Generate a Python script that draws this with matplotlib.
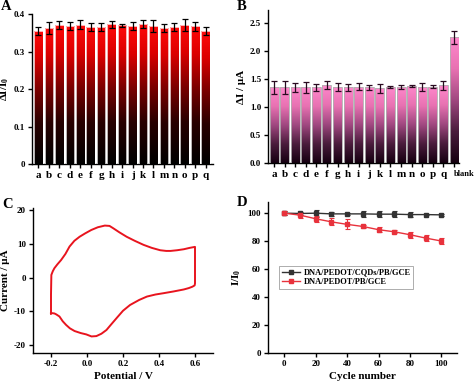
import numpy as np
import matplotlib
matplotlib.use("Agg")
import matplotlib.pyplot as plt
from matplotlib.colors import LinearSegmentedColormap

plt.rcParams['font.family'] = ['Liberation Serif', 'DejaVu Serif']
plt.rcParams['font.weight'] = 'bold'
plt.rcParams['axes.labelweight'] = 'bold'
plt.rcParams['mathtext.fontset'] = 'custom'
plt.rcParams['mathtext.rm'] = 'Liberation Serif:bold'
plt.rcParams['mathtext.it'] = 'Liberation Serif:bold'
plt.rcParams['mathtext.bf'] = 'Liberation Serif:bold'

# ---------------- data ----------------
cats_a = list("abcdefghijklmnopq")
vals_a = [0.355, 0.363, 0.371, 0.368, 0.372, 0.365, 0.365, 0.373, 0.370, 0.368,
          0.373, 0.369, 0.362, 0.366, 0.372, 0.367, 0.354]
errs_a = [0.011, 0.015, 0.011, 0.011, 0.012, 0.011, 0.011, 0.009, 0.004, 0.010,
          0.011, 0.016, 0.011, 0.011, 0.016, 0.011, 0.011]

cats_b = list("abcdefghijklmnopq") + ["blank"]
vals_b = [1.35, 1.35, 1.35, 1.35, 1.35, 1.39, 1.35, 1.35, 1.36, 1.35,
          1.33, 1.35, 1.36, 1.38, 1.35, 1.36, 1.39, 2.24]
errs_b = [0.11, 0.11, 0.08, 0.10, 0.06, 0.07, 0.07, 0.06, 0.06, 0.05,
          0.08, 0.02, 0.04, 0.02, 0.07, 0.03, 0.08, 0.12]

cv_potential = [-0.200, -0.200, -0.198, -0.190, -0.181, -0.165, -0.144, -0.120, -0.097,
                -0.070, -0.041, -0.010, 0.024, 0.060, 0.099, 0.125, 0.146, 0.180,
                0.220, 0.265, 0.314, 0.360, 0.407, 0.440, 0.464, 0.500, 0.538, 0.570,
                0.600, 0.600, 0.600, 0.598, 0.585, 0.565, 0.538, 0.480, 0.426, 0.380,
                0.333, 0.290, 0.239, 0.200, 0.164, 0.135, 0.108, 0.080, 0.052, 0.025,
                -0.004, -0.035, -0.069, -0.095, -0.116, -0.135, -0.153, -0.170, -0.181,
                -0.195, -0.200]
cv_current = [-10.6, -5.0, 0.8, 1.9, 2.8, 3.9, 5.2, 7.0, 9.2, 10.9, 12.1, 13.1, 14.1,
              14.9, 15.4, 15.3, 14.6, 13.4, 12.1, 10.9, 9.7, 8.8, 8.1, 7.9, 7.9, 8.1,
              8.4, 8.8, 9.1, 3.0, -1.7, -2.3, -2.7, -3.1, -3.5, -4.1, -4.6, -5.0, -5.6,
              -6.6, -8.1, -9.8, -12.0, -13.8, -15.5, -16.6, -17.3, -17.4, -16.8, -16.4,
              -15.8, -15.0, -14.0, -12.9, -11.5, -10.9, -10.6, -10.5, -10.6]

cycles = [0, 10, 20, 30, 40, 50, 60, 70, 80, 90, 100]
stab_cqds = [100.0, 99.8, 100.0, 99.5, 99.5, 99.5, 99.3, 99.3, 99.0, 99.0, 98.8]
stab_cqds_err = [1.5, 1.0, 2.5, 1.5, 0.7, 2.0, 2.0, 2.0, 1.5, 0.5, 0.7]
stab_pb = [100.0, 98.6, 96.0, 93.8, 92.0, 90.5, 88.2, 86.7, 84.6, 82.2, 80.1]
stab_pb_err = [1.5, 1.8, 2.0, 2.5, 3.5, 1.0, 2.0, 1.2, 2.0, 2.0, 2.0]
legend_labels = ["DNA/PEDOT/CQDs/PB/GCE", "DNA/PEDOT/PB/GCE"]

# ---------------- figure ----------------
fig = plt.figure(figsize=(4.74, 3.81), dpi=100)
W, H = 474, 381


def add_ax(l, r, t, b):
    return fig.add_axes([l / W, 1 - b / H, (r - l) / W, (b - t) / H])


def style(ax):
    for s in ['top', 'right']:
        ax.spines[s].set_visible(False)
    for s in ['left', 'bottom']:
        ax.spines[s].set_linewidth(1.0)
    ax.tick_params(direction='out', length=3, width=1.0, labelsize=6.5, pad=2)
    for lab in ax.get_xticklabels() + ax.get_yticklabels():
        lab.set_fontweight('bold')


def gradient_bars(ax, x, vals, width, cmap, edgecolor='none', lw=0.6):
    bars = ax.bar(x, vals, width=width, color='none', edgecolor=edgecolor,
                  linewidth=lw, zorder=3)
    grad = np.linspace(0, 1, 256).reshape(-1, 1)
    for bar in bars:
        bx, by = bar.get_x(), bar.get_y()
        bw, bh = bar.get_width(), bar.get_height()
        im = ax.imshow(grad, cmap=cmap, origin='lower', aspect='auto',
                       extent=[bx, bx + bw, by, by + bh], zorder=2,
                       interpolation='bilinear')
        im.set_clip_path(bar)
    return bars


cmap_a = LinearSegmentedColormap.from_list(
    'ra', [(0, '#000000'), (0.3, '#280000'), (0.55, '#7a0000'),
           (0.8, '#dc0000'), (1, '#ff0a0a')])
cmap_b = LinearSegmentedColormap.from_list(
    'rb', [(0, '#150010'), (0.25, '#4a1c3c'), (0.5, '#a04880'),
           (0.75, '#e872b2'), (1, '#ff88cc')])

# ---- A ----
axA = add_ax(32, 213, 14, 164)
xa = np.arange(len(cats_a))
gradient_bars(axA, xa, vals_a, 0.82, cmap_a, edgecolor='white', lw=0.5)
axA.errorbar(xa, vals_a, yerr=errs_a, fmt='none', ecolor='black', elinewidth=0.9,
             capsize=2.2, capthick=0.9, zorder=4)
axA.set_xlim(-0.62, 16.7)
axA.set_ylim(0, 0.4)
axA.set_yticks([0, 0.1, 0.2, 0.3, 0.4])
axA.set_yticklabels(['0', '0.1', '0.2', '0.3', '0.4'])
axA.set_xticks(xa)
axA.set_xticklabels(cats_a)
axA.set_ylabel(r'ΔI/I$_0$', fontsize=8, labelpad=2)
style(axA)
axA.tick_params(axis='x', labelsize=8)

# ---- B ----
axB = add_ax(268, 459, 10, 163)
xb = np.arange(len(cats_b))
gradient_bars(axB, xb, vals_b, 0.85, cmap_b, edgecolor='#b0b0b0')
axB.errorbar(xb, vals_b, yerr=errs_b, fmt='none', ecolor='#2a0a20', elinewidth=0.9,
             capsize=2.2, capthick=0.9, zorder=4)
axB.set_xlim(-0.57, 17.47)
axB.set_ylim(0, 2.73)
axB.set_yticks([0, 0.5, 1.0, 1.5, 2.0, 2.5])
axB.set_yticklabels(['0.0', '0.5', '1.0', '1.5', '2.0', '2.5'])
axB.set_xticks(xb)
axB.set_xticklabels(cats_b)
axB.set_ylabel('ΔI / μA', fontsize=8, labelpad=3)
style(axB)
axB.tick_params(axis='x', labelsize=8)
xl = axB.get_xticklabels()
xl[-1].set_fontsize(6)
xl[-1].set_ha('left')
xl[-1].set_x(xb[-1] - 0.25)

# ---- C ----
axC = add_ax(33, 213, 208, 353)
axC.plot(cv_potential, cv_current, color='#e8141e', lw=1.4, solid_joinstyle='round')
axC.set_xlim(-0.3, 0.7)
axC.set_ylim(-22.3, 20.6)
axC.set_xticks([-0.2, 0.0, 0.2, 0.4, 0.6])
axC.set_xticklabels(['-0.2', '0.0', '0.2', '0.4', '0.6'])
axC.set_yticks([-20, -10, 0, 10, 20])
axC.set_yticklabels(['-20', '-10', '0', '10', '20'])
axC.set_xlabel('Potential / V', fontsize=8, labelpad=3)
axC.set_ylabel('Current / μA', fontsize=8, labelpad=3)
style(axC)

# ---- D ----
axD = add_ax(268, 457, 202, 353)
axD.errorbar(cycles, stab_cqds, yerr=stab_cqds_err, color='#333333', ecolor='#333333',
             marker='s', ms=2.5, lw=1.0, elinewidth=0.8, capsize=1.8, capthick=0.8,
             label=legend_labels[0])
axD.errorbar(cycles, stab_pb, yerr=stab_pb_err, color='#e8323c', ecolor='#e8323c',
             marker='s', ms=2.5, lw=1.0, elinewidth=0.8, capsize=1.8, capthick=0.8,
             label=legend_labels[1])
axD.set_xlim(-10.4, 110)
axD.set_ylim(0, 108)
axD.set_xticks([0, 20, 40, 60, 80, 100])
axD.set_yticks([0, 20, 40, 60, 80, 100])
axD.set_xlabel('Cycle number', fontsize=8, labelpad=3)
axD.set_ylabel(r'I/I$_0$', fontsize=8, labelpad=3)
style(axD)
handles, labels = axD.get_legend_handles_labels()
leg = axD.legend([h[0] for h in handles], labels, loc='upper left',
                 bbox_to_anchor=(0.06, 0.575), fontsize=6, frameon=True,
                 fancybox=False, edgecolor='#888888', borderpad=0.3,
                 handlelength=2.2, handletextpad=0.4, labelspacing=0.2,
                 borderaxespad=0)
leg.get_frame().set_linewidth(0.6)
for t in leg.get_texts():
    t.set_fontweight('bold')

# panel letters
for lbl, x, y in [('A', 1, 7), ('B', 237, 7), ('C', 2, 205), ('D', 237, 203)]:
    fig.text(x / W, 1 - y / H, lbl, fontsize=10.5, fontweight='bold',
             ha='left', va='center')

fig.savefig('out.png', dpi=100)
